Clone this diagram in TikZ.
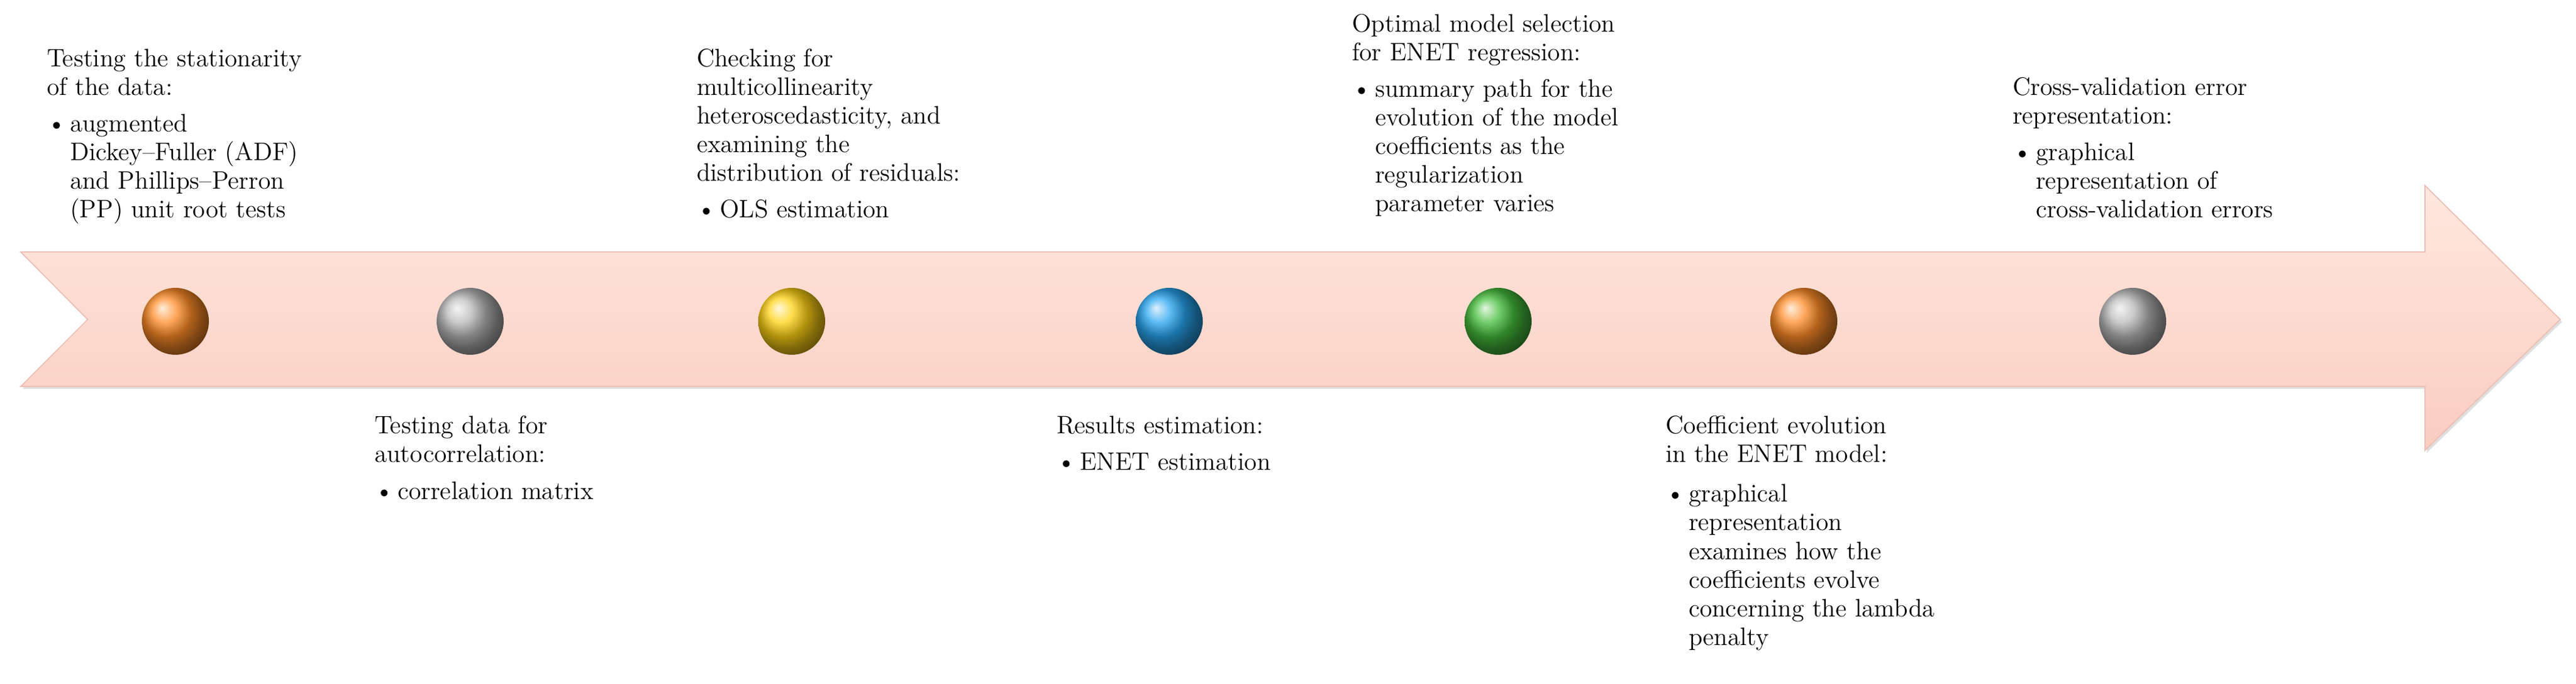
\documentclass[tikz,border=0pt]{standalone}
\usetikzlibrary{shadows}
\begin{document}
\begin{tikzpicture}[x=1cm,y=1cm,
  txt/.style={inner sep=0pt,outer sep=0pt,font=\fontsize{11.8}{13}\selectfont,anchor=base west},
  ballnode/.style={circle,minimum size=1.1cm,inner sep=0pt,shading=ball}]
\useasboundingbox (0,0) rectangle (42.3,-11.24);
% arrow
\path[top color={rgb,255:red,255;green,232;blue,222},bottom color={rgb,255:red,250;green,204;blue,192},
  draw={rgb,255:red,236;green,190;blue,180},line width=0.5pt,
  drop shadow={shadow xshift=0.03cm,shadow yshift=-0.04cm,opacity=0.25}]
  (0.34,-4.14) -- (39.82,-4.14) -- (39.82,-3.05) -- (42.04,-5.25) -- (39.82,-7.4)
  -- (39.82,-6.35) -- (0.34,-6.35) -- (1.44,-5.25) -- cycle;
% balls
\node[ballnode,ball color={rgb,255:red,255;green,140;blue,40}] (b1) at (2.88,-5.28) {};
\node[ballnode,ball color={rgb,255:red,185;green,185;blue,185}] (b2) at (7.72,-5.28) {};
\node[ballnode,ball color={rgb,255:red,255;green,210;blue,20}] (b3) at (13.0,-5.28) {};
\node[ballnode,ball color={rgb,255:red,40;green,165;blue,240}] (b4) at (19.2,-5.28) {};
\node[ballnode,ball color={rgb,255:red,70;green,190;blue,60}] (b5) at (24.6,-5.28) {};
\node[ballnode,ball color={rgb,255:red,255;green,140;blue,40}] (b6) at (29.62,-5.28) {};
\node[ballnode,ball color={rgb,255:red,185;green,185;blue,185}] (b7) at (35.02,-5.28) {};
% text macros
\newcommand\lines[4]{% name, x px, first baseline px, list
  \foreach \t [count=\i from 0] in {#4}
    \node[txt] (#1-\i) at ({(#2)/100}, {-(#3)/100 - \i*0.47}) {\t};}
\newcommand\bul[4]{% name, x px, first baseline px, list
  \node[txt] (#1-dot) at ({(#2)/100}, {-(#3)/100}) {\textbullet};
  \lines{#1}{#2+38}{#3}{#4}}
% block 1
\lines{h1}{77}{110}{Testing the stationarity, of the data:}
\bul{l1}{77}{217}{augmented, Dickey--Fuller (ADF), and Phillips--Perron, (PP) unit root tests}
% block 2
\lines{h2}{615}{713}{Testing data for, autocorrelation:}
\bul{l2}{615}{820}{correlation matrix}
% block 3
\lines{h3}{1144}{110}{Checking for, multicollinearity, {heteroscedasticity, and}, examining the, distribution of residuals:}
\bul{l3}{1144}{358}{OLS estimation}
% block 4
\lines{h4}{1735}{713}{Results estimation:}
\bul{l4}{1735}{773}{ENET estimation}
% block 5
\lines{h5}{2220}{53}{Optimal model selection, for ENET regression:}
\bul{l5}{2220}{160}{summary path for the, evolution of the model, coefficients as the, regularization, parameter varies}
% block 6
\lines{h6}{2735}{713}{Coefficient evolution, in the ENET model:}
\bul{l6}{2735}{825}{graphical, representation, examines how the, coefficients evolve, concerning the lambda, penalty}
% block 7
\lines{h7}{3305}{157}{Cross-validation error, representation:}
\bul{l7}{3305}{264}{graphical, representation of, cross-validation errors}
\end{tikzpicture}
\end{document}
